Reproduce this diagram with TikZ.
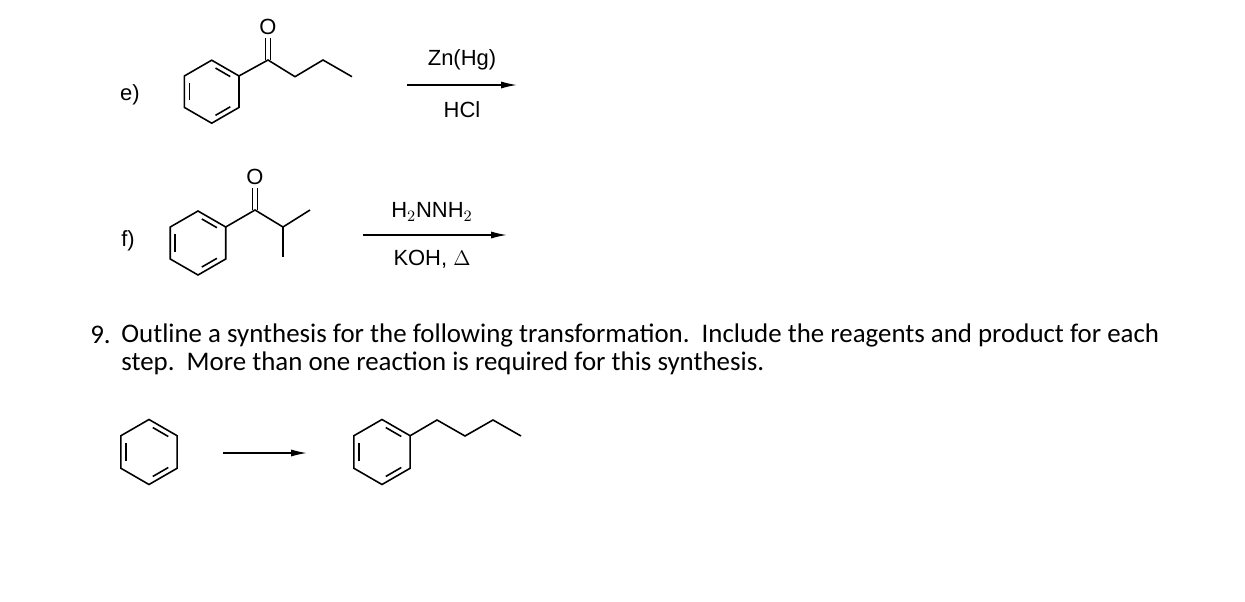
\documentclass[tikz,border=0pt]{standalone}
\usepackage{fontspec}
\setmainfont{Carlito}
\newfontfamily\arial{Liberation Sans}
\usetikzlibrary{arrows.meta,calc}
\newcommand\benzring[3]{% name, center, radius
  \coordinate (#1) at #2;
  \foreach \a/\n in {-90/t,-30/ur,30/lr,90/b,150/ll,-150/ul}{\coordinate (#1\n) at ($(#1)+(\a:#3)$);}
  \draw[bond] (#1t)--(#1ur)--(#1lr)--(#1b)--(#1ll)--(#1ul)--cycle;
  \foreach \p/\q in {t/ur,lr/b,ll/ul}{\draw[bond,shorten <=2.5pt,shorten >=2.5pt] ($(#1)!0.82!(#1\p)$) -- ($(#1)!0.82!(#1\q)$);}
}
\begin{document}
\begin{tikzpicture}[x=0.02cm,y=-0.02cm,
  bond/.style={line width=0.9pt},
  rxn/.style={line width=0.8pt,-{Latex[length=9pt,width=4pt]}},
  lab/.style={font=\arial\fontsize{12.5pt}{14pt}\selectfont,inner sep=0pt},
  body/.style={font=\fontsize{15.3pt}{18pt}\selectfont,inner sep=0pt,anchor=west}]
\useasboundingbox (0,0) rectangle (1245,602);
% e
\node[lab] (le) at (130,95) {e)};
\benzring{E}{(211.7,91.7)}{31.5}
\coordinate (ec) at (268,60);
\draw[bond] (Eur) -- (ec) -- (295,76.7) -- (323,60) -- (352,76.7);
\node[lab] (eo) at (268,27) {O};
\draw[bond] ($(ec)+(-2.5,0)$) -- ($(ec)+(-2.5,-22)$);
\draw[bond] ($(ec)+(2.5,0)$) -- ($(ec)+(2.5,-22)$);
\coordinate (ea1) at (407,85); \coordinate (ea2) at (517,85);
\draw[rxn] (ea1) -- (ea2);
\node[lab] (er1) at (462,60) {Zn(Hg)};
\node[lab] (er2) at (462,110) {HCl};
% f
\node[lab] (lf) at (128,241) {f)};
\benzring{F}{(198,243)}{32}
\coordinate (fc) at (255,210);
\draw[bond] (Fur) -- (fc) -- (283,227) -- (310,210);
\draw[bond] (283,227) -- (283,257);
\node[lab] (fo) at (255,177) {O};
\draw[bond] ($(fc)+(-2.5,0)$) -- ($(fc)+(-2.5,-22)$);
\draw[bond] ($(fc)+(2.5,0)$) -- ($(fc)+(2.5,-22)$);
\coordinate (fa1) at (363,235); \coordinate (fa2) at (507,235);
\draw[rxn] (fa1) -- (fa2);
\node[lab] (fr1) at (432,212) {H$_2$NNH$_2$};
\node[lab] (fr2) at (432,259) {KOH, $\Delta$};
% 9
\node[body] (n9) at (90,335) {9.};
\node[body] (t1) at (121,335) {Outline a synthesis for the following transformation.\ \ Include the reagents and product for each};
\node[body] (t2) at (121,363) {step.\ \ More than one reaction is required for this synthesis.};
\benzring{G}{(149,452)}{32.5}
\coordinate (ga1) at (223,453); \coordinate (ga2) at (307,453);
\draw[rxn] (ga1) -- (ga2);
\benzring{H}{(382,452)}{32.5}
\draw[bond] (Hur) -- (437,420) -- (465,436) -- (493,420) -- (521,436);
\end{tikzpicture}
\end{document}
